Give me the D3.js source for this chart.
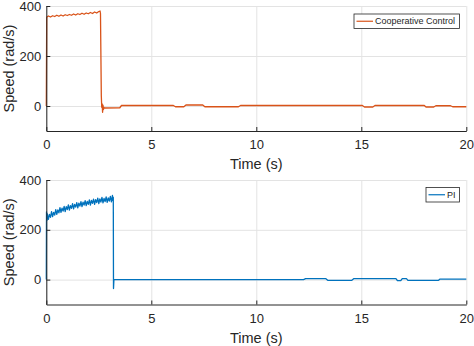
<!DOCTYPE html>
<html>
<head>
<meta charset="utf-8">
<script src="https://cdn.jsdelivr.net/npm/d3@7"></script>
<style>
html,body{margin:0;padding:0;background:#fff;}
svg{display:block;}
text{font-family:"Liberation Sans",Arial,Helvetica,sans-serif;fill:#262626;}
</style>
</head>
<body>
<svg id="chart" width="474" height="346"></svg>
<script>
// ---- data ----
const xTicks = [0, 5, 10, 15, 20];
const yTicks = [0, 200, 400];
const xLabel = "Time (s)";
const yLabel = "Speed (rad/s)";
const seriesNames = ["Cooperative Control", "PI"];
const seriesColors = ["#D95319", "#0072BD"];

const coopTime = [0, 0.02, 0.1, 0.2, 0.3, 0.4, 0.5, 0.6, 0.7, 0.8, 0.9, 1.0, 1.1, 1.2, 1.3, 1.4, 1.5, 1.6, 1.7, 1.8, 1.9, 2.0, 2.1, 2.2, 2.3, 2.4, 2.5, 2.56,
  2.58, 2.62, 2.64, 2.66, 2.68, 2.70, 2.72, 2.74, 2.76, 3.50, 3.58, 6.05, 6.15, 6.55, 6.65, 7.45, 7.55, 9.15, 9.25,
  15.05, 15.15, 15.55, 15.65, 18.0, 18.08, 18.45, 18.55, 19.25, 19.35, 20];
const coopSpeed = [0, 355, 360, 356, 361, 358, 363, 359, 364, 360, 365, 362, 366, 363, 368, 364, 369, 366, 371, 367, 372, 369, 374, 370, 376, 372, 378, 380,
  370, 40, -5, 8, -25, 3, -14, -6, -8, -7, 2, 2, -3, -3, 4, 4, -3, -3, 2,
  2, -4, -4, 2, 2, -4, -4, 1, 1, -3, -3];

const piTime = [0, 0.01, 0.03,
  0.05, 0.10, 0.15, 0.20, 0.25, 0.30, 0.35, 0.40, 0.45, 0.50, 0.55, 0.60, 0.65, 0.70, 0.75, 0.80, 0.85, 0.90, 0.95, 1.00,
  1.05, 1.10, 1.15, 1.20, 1.25, 1.30, 1.35, 1.40, 1.45, 1.50, 1.55, 1.60, 1.65, 1.70, 1.75, 1.80, 1.85, 1.90, 1.95, 2.00,
  2.05, 2.10, 2.15, 2.20, 2.25, 2.30, 2.35, 2.40, 2.45, 2.50, 2.55, 2.60, 2.65, 2.70, 2.75, 2.80, 2.85, 2.90, 2.95, 3.00,
  3.05, 3.10, 3.15, 3.17, 3.19, 3.20, 3.22,
  12.25, 12.35, 13.30, 13.40, 14.55, 14.65, 16.65, 16.72, 16.88, 16.95, 17.15, 17.22, 18.68, 18.75, 20];
const piSpeed = [0, 272, 238,
  264, 242, 262, 250, 273, 253, 270, 259, 281, 262, 280, 268, 289, 270, 287, 275, 294, 273, 293, 281,
  300, 279, 297, 286, 305, 284, 302, 291, 309, 288, 307, 295, 313, 293, 311, 299, 317, 297, 314, 302,
  320, 299, 318, 306, 323, 302, 321, 309, 327, 305, 324, 311, 330, 308, 326, 313, 332, 310, 328, 315,
  334, 312, 338, 318, 330, -36, 0,
  0, 4, 4, -3, -3, 4, 4, -4, -4, 4, 4, -3, -3, 2, 2];

// ---- drawing ----
const svg = d3.select("#chart");
const left = 46.3, right = 466.3;
const panels = [
  {top: 6, bottom: 131, time: coopTime, speed: coopSpeed, idx: 0, legend: {x1: 354, y1: 14, x2: 459.5, y2: 28.5}},
  {top: 180, bottom: 304.5, time: piTime, speed: piSpeed, idx: 1, legend: {x1: 426, y1: 187.5, x2: 459.5, y2: 202}}
];

const x = d3.scaleLinear().domain([0, 20]).range([left, right]);

panels.forEach(p => {
  const y = d3.scaleLinear().domain([-100, 400]).range([p.bottom, p.top]);
  const g = svg.append("g");

  // grid
  g.append("g").attr("transform", `translate(0,${p.bottom})`)
    .call(d3.axisBottom(x).tickValues(xTicks).tickSize(-(p.bottom - p.top)).tickFormat(""))
    .call(s => { s.select(".domain").remove(); s.selectAll("line").attr("stroke", "#e3e3e3").attr("stroke-width", 1); });
  g.append("g").attr("transform", `translate(${left},0)`)
    .call(d3.axisLeft(y).tickValues(yTicks).tickSize(-(right - left)).tickFormat(""))
    .call(s => { s.select(".domain").remove(); s.selectAll("line").attr("stroke", "#e3e3e3").attr("stroke-width", 1); });

  // data line
  const pts = p.time.map((t, i) => [t, p.speed[i]]);
  g.append("path").datum(pts)
    .attr("fill", "none")
    .attr("stroke", seriesColors[p.idx])
    .attr("stroke-width", 1.3)
    .attr("stroke-linejoin", "round")
    .attr("d", d3.line().x(d => x(d[0])).y(d => y(d[1])));

  // axes
  g.append("g").attr("transform", `translate(0,${p.bottom})`)
    .call(d3.axisBottom(x).tickValues(xTicks).tickSizeInner(-4).tickSizeOuter(0).tickPadding(9))
    .call(s => {
      s.select(".domain").attr("stroke", "#262626").attr("stroke-width", 1);
      s.selectAll(".tick line").attr("stroke", "#262626");
      s.selectAll("text").attr("font-size", 13).attr("fill", "#333").attr("font-family", "Liberation Sans, Arial, sans-serif");
    });
  g.append("g").attr("transform", `translate(${left},0)`)
    .call(d3.axisLeft(y).tickValues(yTicks).tickSizeInner(-4).tickSizeOuter(0).tickPadding(5))
    .call(s => {
      s.select(".domain").attr("stroke", "#262626").attr("stroke-width", 1);
      s.selectAll(".tick line").attr("stroke", "#262626");
      s.selectAll("text").attr("font-size", 13).attr("fill", "#333").attr("font-family", "Liberation Sans, Arial, sans-serif");
    });

  // labels
  g.append("text").attr("x", (left + right) / 2).attr("y", p.bottom + 38)
    .attr("text-anchor", "middle").attr("font-size", 14.5).attr("fill", "#333").text(xLabel);
  g.append("text")
    .attr("transform", `translate(14,${(p.top + p.bottom) / 2}) rotate(-90)`)
    .attr("text-anchor", "middle").attr("font-size", 14.5).attr("fill", "#333").text(yLabel);

  // legend
  const L = p.legend;
  g.append("rect").attr("x", L.x1).attr("y", L.y1).attr("width", L.x2 - L.x1).attr("height", L.y2 - L.y1)
    .attr("fill", "#fff").attr("stroke", "#262626").attr("stroke-width", 0.8);
  const my = (L.y1 + L.y2) / 2;
  g.append("line").attr("x1", L.x1 + 2.5).attr("x2", L.x1 + 19).attr("y1", my).attr("y2", my)
    .attr("stroke", seriesColors[p.idx]).attr("stroke-width", 1.2);
  g.append("text").attr("x", L.x1 + 21).attr("y", my).attr("dy", "0.35em")
    .attr("font-size", 9).text(seriesNames[p.idx]);
});
</script>
</body>
</html>
